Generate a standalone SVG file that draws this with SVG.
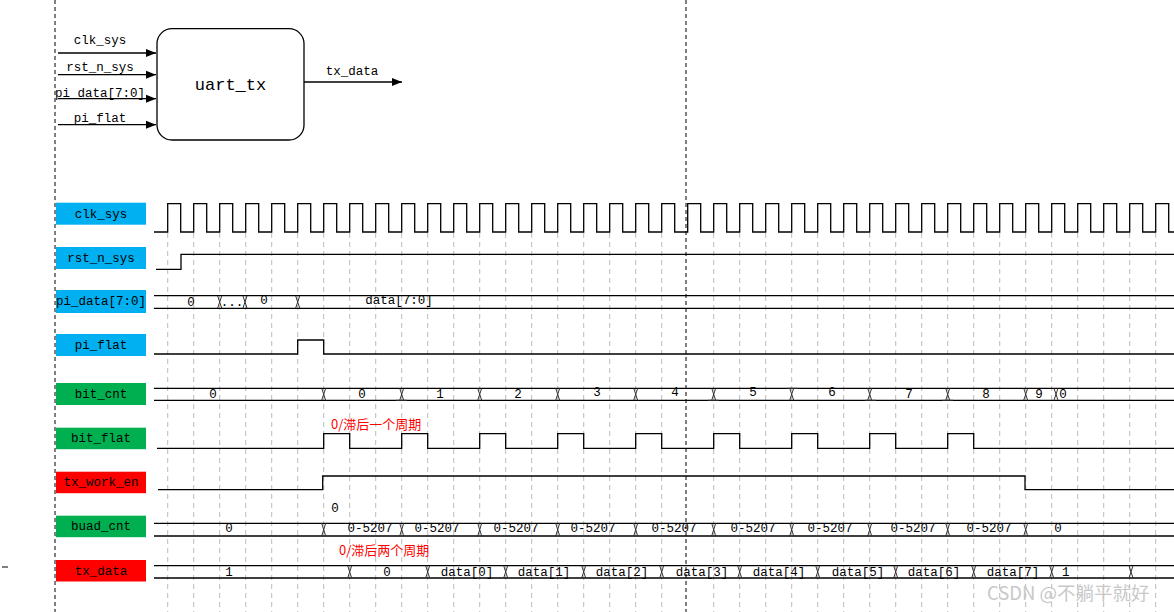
<svg xmlns="http://www.w3.org/2000/svg" width="1174" height="612" viewBox="0 0 1174 612">
<defs>
<style>
.t{font-family:"Liberation Mono","Noto Sans CJK SC",monospace;font-size:12.5px;fill:#000}
.m{text-anchor:middle}
.r{font-family:"Noto Sans CJK SC",sans-serif;font-size:13px;fill:#ff0000}
.w{fill:none;stroke:#000;stroke-width:1.3}
.x{fill:none;stroke:#333;stroke-width:1}
.g{stroke:#bbb;stroke-width:1;stroke-dasharray:5,4}
.b{fill:#00B0F0}.gr{fill:#00B050}.rd{fill:#FF0000}
</style>
<marker id="a" viewBox="0 0 10 10" refX="10" refY="5" markerWidth="8" markerHeight="8" orient="auto"><path d="M0 1 L10 5 L0 9 z" fill="#000"/></marker>
</defs>
<rect width="1174" height="612" fill="#fff"/>
<g id="grid">
<path class="g" d="M167.7 233V612M193.7 233V612M219.7 233V612M245.7 233V612M271.7 233V612M297.7 233V612M323.7 233V612M349.7 233V612M375.7 233V612M401.7 233V612M427.7 233V612M453.7 233V612M479.7 233V612M505.7 233V612M531.7 233V612M557.7 233V612M583.7 233V612M609.7 233V612M635.7 233V612M661.7 233V612M713.7 233V612M739.7 233V612M765.7 233V612M791.7 233V612M817.7 233V612M843.7 233V612M869.7 233V612M895.7 233V612M921.7 233V612M947.7 233V612M973.7 233V612M999.7 233V612M1025.7 233V612M1051.7 233V612M1077.7 233V612M1103.7 233V612M1129.7 233V612M1155.7 233V612"/>
<path d="M55 0V612M686 0V612" stroke="#000" stroke-width="1" stroke-dasharray="4,3"/>
<path d="M2 567H8" stroke="#000"/>
</g>
<g id="uart_tx">
<rect x="157" y="28.7" width="147" height="111.3" rx="15" fill="#fff" stroke="#000" stroke-width="1.3"/>
<text class="t m" x="230.5" y="90" style="font-size:17px">uart_tx</text>
</g>
<g id="connectors">
<path class="w" d="M58 53H156" marker-end="url(#a)"/>
<path class="w" d="M58 74.7H156" marker-end="url(#a)"/>
<path class="w" d="M58 98.7H156" marker-end="url(#a)"/>
<path class="w" d="M58 124.7H156" marker-end="url(#a)"/>
<path class="w" d="M304 82H402" marker-end="url(#a)"/>
<text class="t m" x="100" y="44">clk_sys</text>
<text class="t m" x="100" y="71">rst_n_sys</text>
<text class="t m" x="100" y="97">pi_data[7:0]</text>
<text class="t m" x="100" y="122">pi_flat</text>
<text class="t m" x="352" y="75">tx_data</text>
</g>
<g id="labels">
<rect class="b" x="56" y="202.7" width="90" height="22"/><text class="t m" x="101" y="218">clk_sys</text>
<rect class="b" x="56" y="247" width="90" height="22"/><text class="t m" x="101" y="262">rst_n_sys</text>
<rect class="b" x="56" y="290" width="90" height="23"/><text class="t m" x="101" y="305">pi_data[7:0]</text>
<rect class="b" x="56" y="334" width="90" height="22"/><text class="t m" x="101" y="349">pi_flat</text>
<rect class="gr" x="56" y="383" width="90" height="22"/><text class="t m" x="101" y="398">bit_cnt</text>
<rect class="gr" x="56" y="427.7" width="90" height="21.5"/><text class="t m" x="101" y="442">bit_flat</text>
<rect class="rd" x="56" y="471.7" width="90" height="21.5"/><text class="t m" x="101" y="486">tx_work_en</text>
<rect class="gr" x="56" y="515.7" width="90" height="21.5"/><text class="t m" x="101" y="530">buad_cnt</text>
<rect class="rd" x="56" y="560" width="90" height="21.5"/><text class="t m" x="101" y="575">tx_data</text>
</g>
<g id="clk_sys_wave"><path class="w" d="M154 232H167.7v-28.3h13v28.3h13v-28.3h13v28.3h13v-28.3h13v28.3h13v-28.3h13v28.3h13v-28.3h13v28.3h13v-28.3h13v28.3h13v-28.3h13v28.3h13v-28.3h13v28.3h13v-28.3h13v28.3h13v-28.3h13v28.3h13v-28.3h13v28.3h13v-28.3h13v28.3h13v-28.3h13v28.3h13v-28.3h13v28.3h13v-28.3h13v28.3h13v-28.3h13v28.3h13v-28.3h13v28.3h13v-28.3h13v28.3h13v-28.3h13v28.3h13v-28.3h13v28.3h13v-28.3h13v28.3h13v-28.3h13v28.3h13v-28.3h13v28.3h13v-28.3h13v28.3h13v-28.3h13v28.3h13v-28.3h13v28.3h13v-28.3h13v28.3h13v-28.3h13v28.3h13v-28.3h13v28.3h13v-28.3h13v28.3h13v-28.3h13v28.3h13v-28.3h13v28.3h13v-28.3h13v28.3h13v-28.3h13v28.3h13v-28.3h13v28.3h13v-28.3h13v28.3h13v-28.3h13v28.3h13v-28.3h13v28.3h13v-28.3h13v28.3h13v-28.3h13v28.3h13v-28.3h13v28.3h13v-28.3h13v28.3h13v-28.3h13v28.3h13"/></g>
<g id="rst_n_sys_wave"><path class="w" d="M156 269.3H181V254.3H1174"/></g>
<g id="pi_data_wave">
<path class="w" d="M154 295.7H1174M154 308.3H1174"/>
<path class="x" d="M217.7 296L221.7 308M221.7 296L217.7 308M243 296L247 308M247 296L243 308M295.7 296L299.7 308M299.7 296L295.7 308"/>
<text class="t m" x="191" y="306">0</text><text class="t m" x="232" y="306">...</text><text class="t m" x="264" y="304">0</text><text class="t m" x="399" y="304">data[7:0]</text>
</g>
<g id="pi_flat_wave"><path class="w" d="M154 354H297.7V340H323.7V354H1174"/></g>
<g id="bit_cnt_wave">
<path class="w" d="M154 388.3H1174M154 400.3H1174"/>
<path class="x" d="M321.7 388.3L325.7 400.3M325.7 388.3L321.7 400.3M399.7 388.3L403.7 400.3M403.7 388.3L399.7 400.3M477.7 388.3L481.7 400.3M481.7 388.3L477.7 400.3M555.7 388.3L559.7 400.3M559.7 388.3L555.7 400.3M633.7 388.3L637.7 400.3M637.7 388.3L633.7 400.3M711.7 388.3L715.7 400.3M715.7 388.3L711.7 400.3M789.7 388.3L793.7 400.3M793.7 388.3L789.7 400.3M867.7 388.3L871.7 400.3M871.7 388.3L867.7 400.3M945.7 388.3L949.7 400.3M949.7 388.3L945.7 400.3M1023.7 388.3L1027.7 400.3M1027.7 388.3L1023.7 400.3M1054 388.3L1058 400.3M1058 388.3L1054 400.3"/>
<path class="x" d="M396 400.3h11M708 400.3h11M787 388.3h11M865 400.3h11M942 400.3h11"/>
<text class="t m" x="213" y="398">0</text><text class="t m" x="362" y="398">0</text><text class="t m" x="440" y="398">1</text><text class="t m" x="518" y="398">2</text><text class="t m" x="597" y="396">3</text><text class="t m" x="675" y="396">4</text><text class="t m" x="753" y="396">5</text><text class="t m" x="832" y="396">6</text><text class="t m" x="909" y="398">7</text><text class="t m" x="986" y="398">8</text><text class="t m" x="1039" y="398">9</text><text class="t m" x="1063" y="398">0</text>
</g>
<g id="bit_flat_wave">
<path class="w" d="M157 448.3H323.7v-14.6h26v14.6h52v-14.6h26v14.6h52v-14.6h26v14.6h52v-14.6h26v14.6h52v-14.6h26v14.6h52v-14.6h26v14.6h52v-14.6h26v14.6h52v-14.6h26v14.6h52v-14.6h26v14.6H1174"/>
<text class="r" x="331" y="429">0/滞后一个周期</text>
</g>
<g id="tx_work_en_wave">
<path class="w" d="M158 489.7H322.7V476H1025V489.7H1174"/>
<text class="t m" x="335" y="512">0</text>
</g>
<g id="buad_cnt_wave">
<path class="w" d="M154 523.3H1174M154 536H1174"/>
<path class="x" d="M321.7 523.3L325.7 536M325.7 523.3L321.7 536M399.7 523.3L403.7 536M403.7 523.3L399.7 536M477.7 523.3L481.7 536M481.7 523.3L477.7 536M555.7 523.3L559.7 536M559.7 523.3L555.7 536M633.7 523.3L637.7 536M637.7 523.3L633.7 536M711.7 523.3L715.7 536M715.7 523.3L711.7 536M789.7 523.3L793.7 536M793.7 523.3L789.7 536M867.7 523.3L871.7 536M871.7 523.3L867.7 536M945.7 523.3L949.7 536M949.7 523.3L945.7 536M1023.7 523.3L1027.7 536M1027.7 523.3L1023.7 536"/>
<text class="t m" x="229" y="532">0</text><text class="t m" x="370" y="532">0-5207</text><text class="t m" x="437" y="532">0-5207</text><text class="t m" x="516" y="532">0-5207</text><text class="t m" x="593" y="532">0-5207</text><text class="t m" x="674" y="532">0-5207</text><text class="t m" x="753" y="532">0-5207</text><text class="t m" x="830" y="532">0-5207</text><text class="t m" x="913" y="532">0-5207</text><text class="t m" x="989" y="532">0-5207</text><text class="t m" x="1058" y="532">0</text>
<text class="r" x="339" y="555">0/滞后两个周期</text>
</g>
<g id="tx_data_wave">
<path class="w" d="M154 565.7H1174M154 578H1174"/>
<path class="x" d="M347.7 565.7L351.7 578M351.7 565.7L347.7 578M425.7 565.7L429.7 578M429.7 565.7L425.7 578M503.7 565.7L507.7 578M507.7 565.7L503.7 578M581.7 565.7L585.7 578M585.7 565.7L581.7 578M659.7 565.7L663.7 578M663.7 565.7L659.7 578M737.7 565.7L741.7 578M741.7 565.7L737.7 578M815.7 565.7L819.7 578M819.7 565.7L815.7 578M893.7 565.7L897.7 578M897.7 565.7L893.7 578M971.7 565.7L975.7 578M975.7 565.7L971.7 578M1049.7 565.7L1053.7 578M1053.7 565.7L1049.7 578M1129 565.7L1133 578M1133 565.7L1129 578"/>
<text class="t m" x="229" y="576">1</text><text class="t m" x="387" y="576">0</text><text class="t m" x="467" y="576">data[0]</text><text class="t m" x="544" y="576">data[1]</text><text class="t m" x="622" y="576">data[2]</text><text class="t m" x="702" y="576">data[3]</text><text class="t m" x="779" y="576">data[4]</text><text class="t m" x="858" y="576">data[5]</text><text class="t m" x="934" y="576">data[6]</text><text class="t m" x="1013" y="576">data[7]</text><text class="t" x="1062" y="576">1</text>
</g>
<text x="987" y="600" style="font-family:'Noto Sans CJK SC',sans-serif;font-size:18.5px;fill:#c8c8c8">CSDN @不躺平就好</text>
</svg>
